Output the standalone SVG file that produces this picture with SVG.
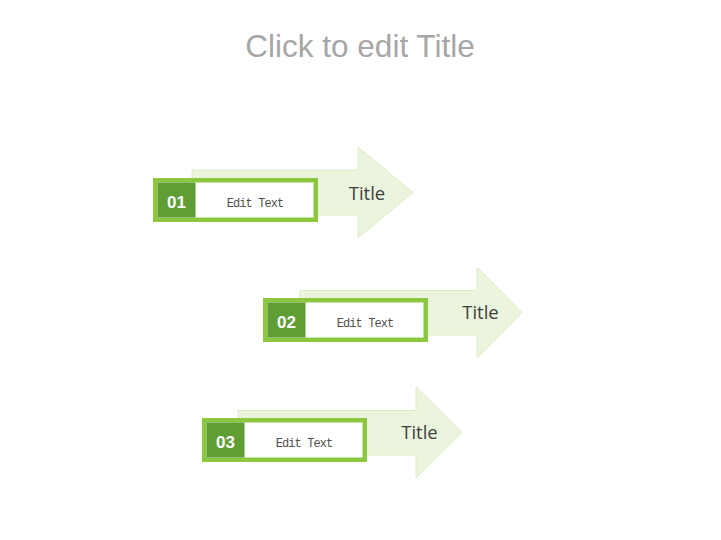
<svg xmlns="http://www.w3.org/2000/svg" width="721" height="540" viewBox="0 0 721 540">
<style>
.arrow{fill:#EBF5DE;stroke:#DCEDC6;stroke-width:1}
.frame{fill:#8DC63F}
.inner{fill:#FFFFFF}
.num{fill:#5E9E34}
.numt{font-family:"Liberation Sans",Arial,sans-serif;font-weight:bold;font-size:17px;fill:#FFFFFF;text-anchor:middle}
.edit{font-family:"Liberation Mono","Courier New",monospace;font-size:12px;letter-spacing:-0.9px;fill:#505050;text-anchor:middle}
.ttl{font-family:"Open Sans","Noto Sans",sans-serif;font-size:18.5px;fill:#404040;text-anchor:middle}
.main{font-family:"Liberation Sans",Arial,sans-serif;font-size:31.5px;fill:#A6A6A6;text-anchor:middle}
</style>
<rect width="721" height="540" fill="#FFFFFF"/>
<text class="main" x="360" y="57">Click to edit Title</text>
<g id="node1">
<polygon class="arrow" points="192,170 358,170 358,147 413,192.5 358,238 358,215 192,215"/>
<rect class="frame" x="153" y="178" width="165" height="44"/>
<rect class="inner" x="157.5" y="182.5" width="156" height="35"/>
<rect class="num" x="157.5" y="182.5" width="38" height="35"/>
<text class="numt" x="176.5" y="208">01</text>
<text class="edit" x="255" y="207">Edit Text</text>
<text class="ttl" x="367" y="200">Title</text>
</g>
<g id="node2">
<polygon class="arrow" points="300,290.5 477,290.5 477,267 522,312.5 477,358 477,335 300,335"/>
<rect class="frame" x="263" y="298" width="165" height="44"/>
<rect class="inner" x="267.5" y="302.5" width="156" height="35"/>
<rect class="num" x="267.5" y="302.5" width="38" height="35"/>
<text class="numt" x="286.5" y="328">02</text>
<text class="edit" x="365" y="327">Edit Text</text>
<text class="ttl" x="480.5" y="319">Title</text>
</g>
<g id="node3">
<polygon class="arrow" points="238,410.5 416,410.5 416,387 462,432.5 416,478 416,455 238,455"/>
<rect class="frame" x="202" y="418" width="165" height="44"/>
<rect class="inner" x="206.5" y="422.5" width="156" height="35"/>
<rect class="num" x="206.5" y="422.5" width="38" height="35"/>
<text class="numt" x="225.5" y="448">03</text>
<text class="edit" x="304" y="447">Edit Text</text>
<text class="ttl" x="419.5" y="439">Title</text>
</g>
<g id="connectors"></g>
</svg>
